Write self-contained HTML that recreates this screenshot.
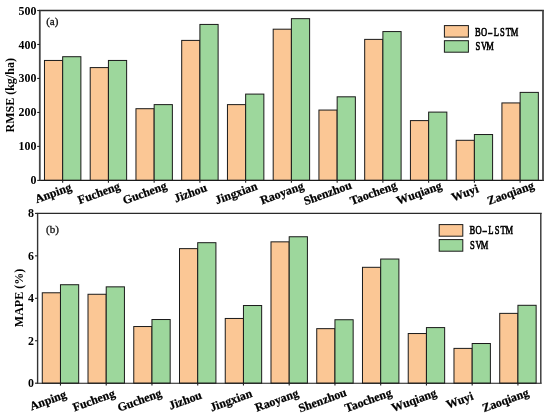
<!DOCTYPE html>
<html><head><meta charset="utf-8"><title>RMSE and MAPE comparison</title>
<style>
html,body{margin:0;padding:0;background:#fff;}
body{width:550px;height:419px;overflow:hidden;}
svg{display:block;}
.tl{font-family:"Liberation Serif", "Times New Roman", serif;font-weight:bold;font-size:13.4px;fill:#000;}
.xl{font-family:"Liberation Serif", "Times New Roman", serif;font-weight:bold;font-size:12px;fill:#000;stroke:#000;stroke-width:0.25px;}
.yl{font-family:"Liberation Serif", "Times New Roman", serif;font-weight:bold;font-size:12px;fill:#000;}
.tag{font-family:"Liberation Serif", "Times New Roman", serif;font-size:11px;fill:#111;stroke:#111;stroke-width:0.3px;}
.lg{font-family:"Liberation Serif", "Times New Roman", serif;font-size:13.3px;fill:#000;stroke:#000;stroke-width:0.7px;}
</style></head>
<body>
<svg width="550" height="419" viewBox="0 0 550 419">
<rect width="550" height="419" fill="#fff"/>
<g>
<rect x="44.47" y="60.45" width="18.21" height="119.95" fill="#fbc795" stroke="#1a1a1a" stroke-width="1"/>
<rect x="62.67" y="56.71" width="18.21" height="123.69" fill="#9dd79c" stroke="#1a1a1a" stroke-width="1"/>
<rect x="90.21" y="67.59" width="18.21" height="112.81" fill="#fbc795" stroke="#1a1a1a" stroke-width="1"/>
<rect x="108.42" y="60.45" width="18.21" height="119.95" fill="#9dd79c" stroke="#1a1a1a" stroke-width="1"/>
<rect x="135.96" y="108.70" width="18.21" height="71.70" fill="#fbc795" stroke="#1a1a1a" stroke-width="1"/>
<rect x="154.16" y="104.62" width="18.21" height="75.78" fill="#9dd79c" stroke="#1a1a1a" stroke-width="1"/>
<rect x="181.70" y="40.40" width="18.21" height="140.00" fill="#fbc795" stroke="#1a1a1a" stroke-width="1"/>
<rect x="199.91" y="24.43" width="18.21" height="155.97" fill="#9dd79c" stroke="#1a1a1a" stroke-width="1"/>
<rect x="227.45" y="104.62" width="18.21" height="75.78" fill="#fbc795" stroke="#1a1a1a" stroke-width="1"/>
<rect x="245.65" y="94.09" width="18.21" height="86.31" fill="#9dd79c" stroke="#1a1a1a" stroke-width="1"/>
<rect x="273.19" y="29.19" width="18.21" height="151.21" fill="#fbc795" stroke="#1a1a1a" stroke-width="1"/>
<rect x="291.40" y="18.66" width="18.21" height="161.74" fill="#9dd79c" stroke="#1a1a1a" stroke-width="1"/>
<rect x="318.94" y="110.06" width="18.21" height="70.34" fill="#fbc795" stroke="#1a1a1a" stroke-width="1"/>
<rect x="337.15" y="96.81" width="18.21" height="83.59" fill="#9dd79c" stroke="#1a1a1a" stroke-width="1"/>
<rect x="364.68" y="39.38" width="18.21" height="141.02" fill="#fbc795" stroke="#1a1a1a" stroke-width="1"/>
<rect x="382.89" y="31.57" width="18.21" height="148.83" fill="#9dd79c" stroke="#1a1a1a" stroke-width="1"/>
<rect x="410.43" y="120.60" width="18.21" height="59.80" fill="#fbc795" stroke="#1a1a1a" stroke-width="1"/>
<rect x="428.64" y="112.10" width="18.21" height="68.30" fill="#9dd79c" stroke="#1a1a1a" stroke-width="1"/>
<rect x="456.18" y="140.30" width="18.21" height="40.10" fill="#fbc795" stroke="#1a1a1a" stroke-width="1"/>
<rect x="474.38" y="134.53" width="18.21" height="45.87" fill="#9dd79c" stroke="#1a1a1a" stroke-width="1"/>
<rect x="501.92" y="102.93" width="18.21" height="77.47" fill="#fbc795" stroke="#1a1a1a" stroke-width="1"/>
<rect x="520.13" y="92.39" width="18.21" height="88.01" fill="#9dd79c" stroke="#1a1a1a" stroke-width="1"/>
<line x1="38.9" y1="10.5" x2="543.9" y2="10.5" stroke="#2a2a2a" stroke-width="1.4"/>
<line x1="38.9" y1="180.4" x2="543.9" y2="180.4" stroke="#1a1a1a" stroke-width="1.15"/>
<line x1="39.8" y1="10.5" x2="39.8" y2="180.4" stroke="#474747" stroke-width="1.8"/>
<line x1="543.0" y1="10.5" x2="543.0" y2="180.4" stroke="#474747" stroke-width="1.8"/>
<line x1="37.199999999999996" y1="180.40" x2="39.8" y2="180.40" stroke="#222" stroke-width="1.1"/>
<text transform="translate(36.50,180.20) scale(0.89,1)" class="tl" text-anchor="end" dominant-baseline="central">0</text>
<line x1="37.199999999999996" y1="146.42" x2="39.8" y2="146.42" stroke="#222" stroke-width="1.1"/>
<text transform="translate(36.50,146.22) scale(0.89,1)" class="tl" text-anchor="end" dominant-baseline="central">100</text>
<line x1="37.199999999999996" y1="112.44" x2="39.8" y2="112.44" stroke="#222" stroke-width="1.1"/>
<text transform="translate(36.50,112.24) scale(0.89,1)" class="tl" text-anchor="end" dominant-baseline="central">200</text>
<line x1="37.199999999999996" y1="78.46" x2="39.8" y2="78.46" stroke="#222" stroke-width="1.1"/>
<text transform="translate(36.50,78.26) scale(0.89,1)" class="tl" text-anchor="end" dominant-baseline="central">300</text>
<line x1="37.199999999999996" y1="44.48" x2="39.8" y2="44.48" stroke="#222" stroke-width="1.1"/>
<text transform="translate(36.50,44.28) scale(0.89,1)" class="tl" text-anchor="end" dominant-baseline="central">400</text>
<line x1="37.199999999999996" y1="10.50" x2="39.8" y2="10.50" stroke="#222" stroke-width="1.1"/>
<text transform="translate(36.50,10.30) scale(0.89,1)" class="tl" text-anchor="end" dominant-baseline="central">500</text>
<line x1="62.67" y1="180.4" x2="62.67" y2="182.8" stroke="#222" stroke-width="1.1"/>
<text transform="translate(53.17,192.90) rotate(-20)" class="xl" text-anchor="middle" dominant-baseline="central">Anping</text>
<line x1="108.42" y1="180.4" x2="108.42" y2="182.8" stroke="#222" stroke-width="1.1"/>
<text transform="translate(98.92,192.90) rotate(-20)" class="xl" text-anchor="middle" dominant-baseline="central">Fucheng</text>
<line x1="154.16" y1="180.4" x2="154.16" y2="182.8" stroke="#222" stroke-width="1.1"/>
<text transform="translate(144.66,192.90) rotate(-20)" class="xl" text-anchor="middle" dominant-baseline="central">Gucheng</text>
<line x1="199.91" y1="180.4" x2="199.91" y2="182.8" stroke="#222" stroke-width="1.1"/>
<text transform="translate(190.41,192.90) rotate(-20)" class="xl" text-anchor="middle" dominant-baseline="central">Jizhou</text>
<line x1="245.65" y1="180.4" x2="245.65" y2="182.8" stroke="#222" stroke-width="1.1"/>
<text transform="translate(236.15,192.90) rotate(-20)" class="xl" text-anchor="middle" dominant-baseline="central">Jingxian</text>
<line x1="291.40" y1="180.4" x2="291.40" y2="182.8" stroke="#222" stroke-width="1.1"/>
<text transform="translate(281.90,192.90) rotate(-20)" class="xl" text-anchor="middle" dominant-baseline="central">Raoyang</text>
<line x1="337.15" y1="180.4" x2="337.15" y2="182.8" stroke="#222" stroke-width="1.1"/>
<text transform="translate(327.65,192.90) rotate(-20)" class="xl" text-anchor="middle" dominant-baseline="central">Shenzhou</text>
<line x1="382.89" y1="180.4" x2="382.89" y2="182.8" stroke="#222" stroke-width="1.1"/>
<text transform="translate(373.39,192.90) rotate(-20)" class="xl" text-anchor="middle" dominant-baseline="central">Taocheng</text>
<line x1="428.64" y1="180.4" x2="428.64" y2="182.8" stroke="#222" stroke-width="1.1"/>
<text transform="translate(419.14,192.90) rotate(-20)" class="xl" text-anchor="middle" dominant-baseline="central">Wuqiang</text>
<line x1="474.38" y1="180.4" x2="474.38" y2="182.8" stroke="#222" stroke-width="1.1"/>
<text transform="translate(464.88,192.90) rotate(-20)" class="xl" text-anchor="middle" dominant-baseline="central">Wuyi</text>
<line x1="520.13" y1="180.4" x2="520.13" y2="182.8" stroke="#222" stroke-width="1.1"/>
<text transform="translate(510.63,192.90) rotate(-20)" class="xl" text-anchor="middle" dominant-baseline="central">Zaoqiang</text>
<text transform="translate(14.2,95.3) rotate(-90)" class="yl" text-anchor="middle">RMSE (kg/ha)</text>
<text x="46.2" y="25.0" class="tag">(a)</text>
<rect x="444.4" y="25.60" width="24" height="11.5" fill="#fbc795" stroke="#1a1a1a" stroke-width="1"/>
<text transform="translate(474.9,36.1) scale(0.64,1)" class="lg" text-anchor="middle" x="4.77 14.30 23.83 33.36 42.89 52.42 61.95">BO<tspan textLength="7.6" lengthAdjust="spacingAndGlyphs">-</tspan>LSTM</text>
<rect x="444.4" y="40.70" width="24" height="11.5" fill="#9dd79c" stroke="#1a1a1a" stroke-width="1"/>
<text transform="translate(474.9,50.3) scale(0.64,1)" class="lg" text-anchor="middle" x="4.77 14.30 23.83">SVM</text>
</g>
<g>
<rect x="42.27" y="292.78" width="18.21" height="90.42" fill="#fbc795" stroke="#1a1a1a" stroke-width="1"/>
<rect x="60.47" y="284.72" width="18.21" height="98.48" fill="#9dd79c" stroke="#1a1a1a" stroke-width="1"/>
<rect x="88.01" y="294.27" width="18.21" height="88.93" fill="#fbc795" stroke="#1a1a1a" stroke-width="1"/>
<rect x="106.22" y="286.84" width="18.21" height="96.36" fill="#9dd79c" stroke="#1a1a1a" stroke-width="1"/>
<rect x="133.76" y="326.53" width="18.21" height="56.67" fill="#fbc795" stroke="#1a1a1a" stroke-width="1"/>
<rect x="151.96" y="319.52" width="18.21" height="63.68" fill="#9dd79c" stroke="#1a1a1a" stroke-width="1"/>
<rect x="179.50" y="248.63" width="18.21" height="134.57" fill="#fbc795" stroke="#1a1a1a" stroke-width="1"/>
<rect x="197.71" y="242.69" width="18.21" height="140.51" fill="#9dd79c" stroke="#1a1a1a" stroke-width="1"/>
<rect x="225.25" y="318.46" width="18.21" height="64.74" fill="#fbc795" stroke="#1a1a1a" stroke-width="1"/>
<rect x="243.45" y="305.52" width="18.21" height="77.68" fill="#9dd79c" stroke="#1a1a1a" stroke-width="1"/>
<rect x="270.99" y="241.84" width="18.21" height="141.36" fill="#fbc795" stroke="#1a1a1a" stroke-width="1"/>
<rect x="289.20" y="236.75" width="18.21" height="146.45" fill="#9dd79c" stroke="#1a1a1a" stroke-width="1"/>
<rect x="316.74" y="328.65" width="18.21" height="54.55" fill="#fbc795" stroke="#1a1a1a" stroke-width="1"/>
<rect x="334.95" y="319.74" width="18.21" height="63.46" fill="#9dd79c" stroke="#1a1a1a" stroke-width="1"/>
<rect x="362.48" y="267.31" width="18.21" height="115.89" fill="#fbc795" stroke="#1a1a1a" stroke-width="1"/>
<rect x="380.69" y="259.03" width="18.21" height="124.17" fill="#9dd79c" stroke="#1a1a1a" stroke-width="1"/>
<rect x="408.23" y="333.53" width="18.21" height="49.67" fill="#fbc795" stroke="#1a1a1a" stroke-width="1"/>
<rect x="426.44" y="327.59" width="18.21" height="55.61" fill="#9dd79c" stroke="#1a1a1a" stroke-width="1"/>
<rect x="453.98" y="348.39" width="18.21" height="34.81" fill="#fbc795" stroke="#1a1a1a" stroke-width="1"/>
<rect x="472.18" y="343.51" width="18.21" height="39.69" fill="#9dd79c" stroke="#1a1a1a" stroke-width="1"/>
<rect x="499.72" y="313.37" width="18.21" height="69.83" fill="#fbc795" stroke="#1a1a1a" stroke-width="1"/>
<rect x="517.93" y="305.30" width="18.21" height="77.90" fill="#9dd79c" stroke="#1a1a1a" stroke-width="1"/>
<line x1="36.7" y1="213.4" x2="541.6999999999999" y2="213.4" stroke="#2a2a2a" stroke-width="1.4"/>
<line x1="36.7" y1="383.2" x2="541.6999999999999" y2="383.2" stroke="#1a1a1a" stroke-width="1.15"/>
<line x1="37.6" y1="213.4" x2="37.6" y2="383.2" stroke="#333" stroke-width="1.4"/>
<line x1="540.8" y1="213.4" x2="540.8" y2="383.2" stroke="#333" stroke-width="1.4"/>
<line x1="35.0" y1="383.20" x2="37.6" y2="383.20" stroke="#222" stroke-width="1.1"/>
<text transform="translate(33.90,382.80) scale(0.89,1)" class="tl" text-anchor="end" dominant-baseline="central">0</text>
<line x1="35.0" y1="340.75" x2="37.6" y2="340.75" stroke="#222" stroke-width="1.1"/>
<text transform="translate(33.90,340.35) scale(0.89,1)" class="tl" text-anchor="end" dominant-baseline="central">2</text>
<line x1="35.0" y1="298.30" x2="37.6" y2="298.30" stroke="#222" stroke-width="1.1"/>
<text transform="translate(33.90,297.90) scale(0.89,1)" class="tl" text-anchor="end" dominant-baseline="central">4</text>
<line x1="35.0" y1="255.85" x2="37.6" y2="255.85" stroke="#222" stroke-width="1.1"/>
<text transform="translate(33.90,255.45) scale(0.89,1)" class="tl" text-anchor="end" dominant-baseline="central">6</text>
<line x1="35.0" y1="213.40" x2="37.6" y2="213.40" stroke="#222" stroke-width="1.1"/>
<text transform="translate(33.90,213.00) scale(0.89,1)" class="tl" text-anchor="end" dominant-baseline="central">8</text>
<line x1="60.47" y1="383.2" x2="60.47" y2="385.59999999999997" stroke="#222" stroke-width="1.1"/>
<text transform="translate(47.97,400.20) rotate(-20)" class="xl" text-anchor="middle" dominant-baseline="central">Anping</text>
<line x1="106.22" y1="383.2" x2="106.22" y2="385.59999999999997" stroke="#222" stroke-width="1.1"/>
<text transform="translate(93.72,400.20) rotate(-20)" class="xl" text-anchor="middle" dominant-baseline="central">Fucheng</text>
<line x1="151.96" y1="383.2" x2="151.96" y2="385.59999999999997" stroke="#222" stroke-width="1.1"/>
<text transform="translate(139.46,400.20) rotate(-20)" class="xl" text-anchor="middle" dominant-baseline="central">Gucheng</text>
<line x1="197.71" y1="383.2" x2="197.71" y2="385.59999999999997" stroke="#222" stroke-width="1.1"/>
<text transform="translate(185.21,400.20) rotate(-20)" class="xl" text-anchor="middle" dominant-baseline="central">Jizhou</text>
<line x1="243.45" y1="383.2" x2="243.45" y2="385.59999999999997" stroke="#222" stroke-width="1.1"/>
<text transform="translate(230.95,400.20) rotate(-20)" class="xl" text-anchor="middle" dominant-baseline="central">Jingxian</text>
<line x1="289.20" y1="383.2" x2="289.20" y2="385.59999999999997" stroke="#222" stroke-width="1.1"/>
<text transform="translate(276.70,400.20) rotate(-20)" class="xl" text-anchor="middle" dominant-baseline="central">Raoyang</text>
<line x1="334.95" y1="383.2" x2="334.95" y2="385.59999999999997" stroke="#222" stroke-width="1.1"/>
<text transform="translate(322.45,400.20) rotate(-20)" class="xl" text-anchor="middle" dominant-baseline="central">Shenzhou</text>
<line x1="380.69" y1="383.2" x2="380.69" y2="385.59999999999997" stroke="#222" stroke-width="1.1"/>
<text transform="translate(368.19,400.20) rotate(-20)" class="xl" text-anchor="middle" dominant-baseline="central">Taocheng</text>
<line x1="426.44" y1="383.2" x2="426.44" y2="385.59999999999997" stroke="#222" stroke-width="1.1"/>
<text transform="translate(413.94,400.20) rotate(-20)" class="xl" text-anchor="middle" dominant-baseline="central">Wuqiang</text>
<line x1="472.18" y1="383.2" x2="472.18" y2="385.59999999999997" stroke="#222" stroke-width="1.1"/>
<text transform="translate(459.68,400.20) rotate(-20)" class="xl" text-anchor="middle" dominant-baseline="central">Wuyi</text>
<line x1="517.93" y1="383.2" x2="517.93" y2="385.59999999999997" stroke="#222" stroke-width="1.1"/>
<text transform="translate(505.43,400.20) rotate(-20)" class="xl" text-anchor="middle" dominant-baseline="central">Zaoqiang</text>
<text transform="translate(23.4,298.0) rotate(-90)" class="yl" text-anchor="middle">MAPE (%)</text>
<text x="46.1" y="232.6" class="tag">(b)</text>
<rect x="439.2" y="224.60" width="23.6" height="11.6" fill="#fbc795" stroke="#1a1a1a" stroke-width="1"/>
<text transform="translate(469.2,234.3) scale(0.64,1)" class="lg" text-anchor="middle" x="4.83 14.48 24.14 33.80 43.45 53.11 62.77">BO<tspan textLength="7.6" lengthAdjust="spacingAndGlyphs">-</tspan>LSTM</text>
<rect x="439.2" y="239.60" width="23.6" height="11.6" fill="#9dd79c" stroke="#1a1a1a" stroke-width="1"/>
<text transform="translate(469.2,248.9) scale(0.64,1)" class="lg" text-anchor="middle" x="4.83 14.48 24.14">SVM</text>
</g>
</svg>
</body></html>
